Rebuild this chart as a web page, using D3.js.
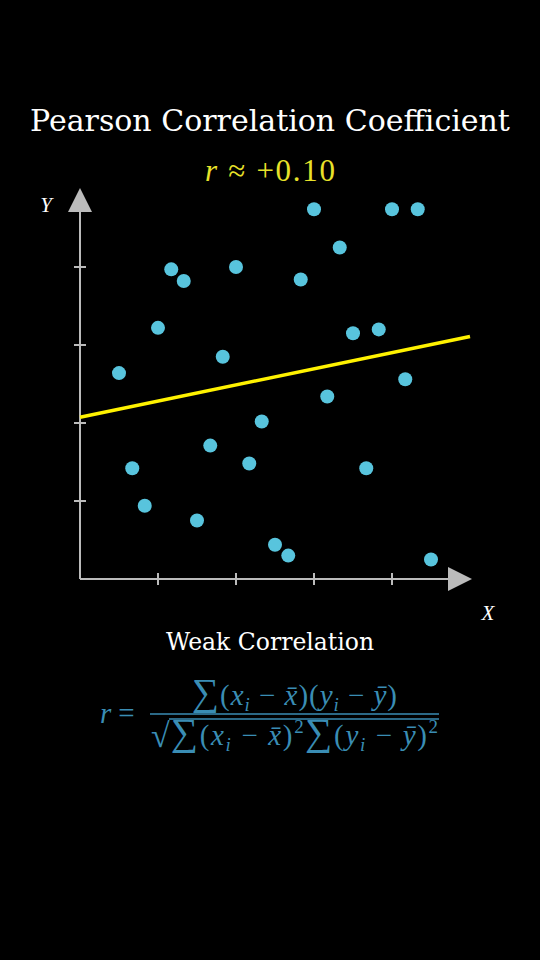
<!DOCTYPE html>
<html>
<head>
<meta charset="utf-8">
<script src="https://cdn.jsdelivr.net/npm/d3@7"></script>
<style>
  html, body { margin: 0; padding: 0; background: #000; }
  svg { display: block; }
</style>
</head>
<body>
<div id="chart"></div>
<script>
// data
var xs = [0.50, 0.67, 0.83, 1.00, 1.17, 1.33, 1.50, 1.67, 1.83, 2.00, 2.17, 2.33, 2.50,
          2.67, 2.83, 3.00, 3.17, 3.33, 3.50, 3.67, 3.83, 4.00, 4.17, 4.33, 4.50];
var ys = [2.64, 1.42, 0.94, 3.22, 3.97, 3.82, 0.75, 1.71, 2.85, 4.00, 1.48, 2.02, 0.44,
          0.30, 3.84, 4.74, 2.34, 4.25, 3.15, 1.42, 3.20, 4.74, 2.56, 4.74, 0.25];
var xTicks = [1, 2, 3, 4];
var yTicks = [1, 2, 3, 4];
var titleText = 'Pearson Correlation Coefficient';
var rText = '+0.10';
var subtitle = 'Weak Correlation';

(function(){
  var W = 540, H = 960;
  var svg = d3.select('#chart').append('svg')
    .attr('width', W).attr('height', H)
    .style('background', '#000');

  var x = d3.scaleLinear().domain([0, 5]).range([80, 470]);
  var y = d3.scaleLinear().domain([0, 5]).range([579, 189]);

  var axisColor = '#BBBBBB';
  var serif = '"DejaVu Serif", serif';
  var mathFont = '"Liberation Serif", "DejaVu Serif", serif';

  // title + r value
  svg.append('text')
    .attr('x', 270).attr('y', 131)
    .attr('text-anchor', 'middle')
    .attr('fill', '#fff')
    .style('font-family', serif).style('font-size', '30px')
    .text(titleText);

  var rLabel = svg.append('text')
    .attr('x', 270).attr('y', 181)
    .attr('text-anchor', 'middle')
    .attr('fill', '#E8E22A')
    .attr('textLength', 130).attr('lengthAdjust', 'spacing')
    .style('font-family', mathFont).style('font-size', '31px');
  rLabel.append('tspan').style('font-style', 'italic').text('r');
  rLabel.append('tspan').text(' \u2248 ' + rText);

  // axes
  var g = svg.append('g');
  g.append('line')
    .attr('x1', x(0)).attr('x2', x(5) - 20)
    .attr('y1', y(0)).attr('y2', y(0))
    .attr('stroke', axisColor).attr('stroke-width', 2);
  g.append('line')
    .attr('x1', x(0)).attr('x2', x(0))
    .attr('y1', y(0)).attr('y2', y(5) + 20)
    .attr('stroke', axisColor).attr('stroke-width', 2);

  // arrow heads
  g.append('path')
    .attr('d', 'M' + (x(5) + 2) + ',' + y(0) + 'L' + (x(5) - 22) + ',' + (y(0) - 12) + 'L' + (x(5) - 22) + ',' + (y(0) + 12) + 'Z')
    .attr('fill', axisColor);
  g.append('path')
    .attr('d', 'M' + x(0) + ',' + (y(5) - 1) + 'L' + (x(0) - 12) + ',' + (y(5) + 23) + 'L' + (x(0) + 12) + ',' + (y(5) + 23) + 'Z')
    .attr('fill', axisColor);

  g.selectAll('line.xt')
    .data(xTicks).enter().append('line')
    .attr('class', 'xt')
    .attr('x1', function(d) {return x(d);})
    .attr('x2', function(d) {return x(d);})
    .attr('y1', y(0) - 6).attr('y2', y(0) + 6)
    .attr('stroke', axisColor).attr('stroke-width', 2);

  g.selectAll('line.yt')
    .data(yTicks).enter().append('line')
    .attr('class', 'yt')
    .attr('x1', x(0) - 6).attr('x2', x(0) + 6)
    .attr('y1', function(d) {return y(d);})
    .attr('y2', function(d) {return y(d);})
    .attr('stroke', axisColor).attr('stroke-width', 2);

  svg.append('text')
    .attr('x', 46).attr('y', 212)
    .attr('text-anchor', 'middle')
    .attr('fill', '#fff')
    .style('font-family', mathFont).style('font-style', 'italic').style('font-size', '21px')
    .text('Y');
  svg.append('text')
    .attr('x', 488).attr('y', 620)
    .attr('text-anchor', 'middle')
    .attr('fill', '#fff')
    .style('font-family', mathFont).style('font-style', 'italic').style('font-size', '21px')
    .text('X');

  // least squares line
  var mx = d3.mean(xs), my = d3.mean(ys);
  var sxy = d3.sum(xs, function(d, i) {return (d - mx) * (ys[i] - my);});
  var sxx = d3.sum(xs, function(d) {return (d - mx) * (d - mx);});
  var slope = sxy / sxx, icpt = my - slope * mx;

  svg.append('line')
    .attr('x1', x(0)).attr('y1', y(icpt))
    .attr('x2', x(5)).attr('y2', y(icpt + slope * 5))
    .attr('stroke', '#FFF200').attr('stroke-width', 3.5);

  // points
  svg.selectAll('circle.pt')
    .data(xs).enter().append('circle')
    .attr('class', 'pt')
    .attr('cx', function(d) {return x(d);})
    .attr('cy', function(d, i) {return y(ys[i]);})
    .attr('r', 7)
    .attr('fill', '#58C4DD');

  // subtitle
  svg.append('text')
    .attr('x', 270).attr('y', 650)
    .attr('text-anchor', 'middle')
    .attr('fill', '#fff')
    .style('font-family', serif).style('font-size', '23.5px')
    .text(subtitle);

  // formula
  var fc = '#3A8DB4';
  var f = svg.append('g')
    .attr('fill', fc)
    .style('font-family', mathFont).style('font-size', '29px');

  var left = f.append('text').attr('x', 100).attr('y', 723);
  left.append('tspan').style('font-style', 'italic').text('r');
  left.append('tspan').attr('dx', 7).text('=');

  // segments: [text, italic, kind] kind: 'sub' / 'sup' / 'big'
  function row(t, segs) {
    var cur = 0;
    segs.forEach(function(s) {
      var shift = s[2] === 'sub' ? 6 : s[2] === 'sup' ? -12 : 0;
      var size = s[2] === 'big' ? '38px' : shift ? '19px' : null;
      t.append('tspan')
        .attr('dy', shift - cur)
        .style('font-style', s[1] ? 'italic' : 'normal')
        .style('font-size', size)
        .text(s[0]);
      cur = shift;
    });
  }

  var num = f.append('text')
    .attr('x', 192).attr('y', 705)
    .attr('textLength', 205).attr('lengthAdjust', 'spacing');
  row(num, [['\u2211', 0, 'big'], ['(', 0], ['x', 1], ['i', 1, 'sub'], [' \u2212 ', 0], ['x\u0304', 1], [')(', 0],
            ['y', 1], ['i', 1, 'sub'], [' \u2212 ', 0], ['y\u0304', 1], [')', 0]]);

  f.append('line')
    .attr('x1', 150).attr('x2', 439)
    .attr('y1', 714).attr('y2', 714)
    .attr('stroke', fc).attr('stroke-width', 1.6);

  f.append('text')
    .attr('x', 151).attr('y', 747)
    .style('font-size', '34px')
    .text('\u221A');

  var den = f.append('text')
    .attr('x', 171).attr('y', 745)
    .attr('textLength', 267).attr('lengthAdjust', 'spacing');
  row(den, [['\u2211', 0, 'big'], ['(', 0], ['x', 1], ['i', 1, 'sub'], [' \u2212 ', 0], ['x\u0304', 1], [')', 0], ['2', 0, 'sup'],
            ['\u2211', 0, 'big'], ['(', 0], ['y', 1], ['i', 1, 'sub'], [' \u2212 ', 0], ['y\u0304', 1], [')', 0], ['2', 0, 'sup']]);

  f.append('line')
    .attr('x1', 169).attr('x2', 439)
    .attr('y1', 719).attr('y2', 719)
    .attr('stroke', fc).attr('stroke-width', 1.4);
})();
</script>
</body>
</html>
